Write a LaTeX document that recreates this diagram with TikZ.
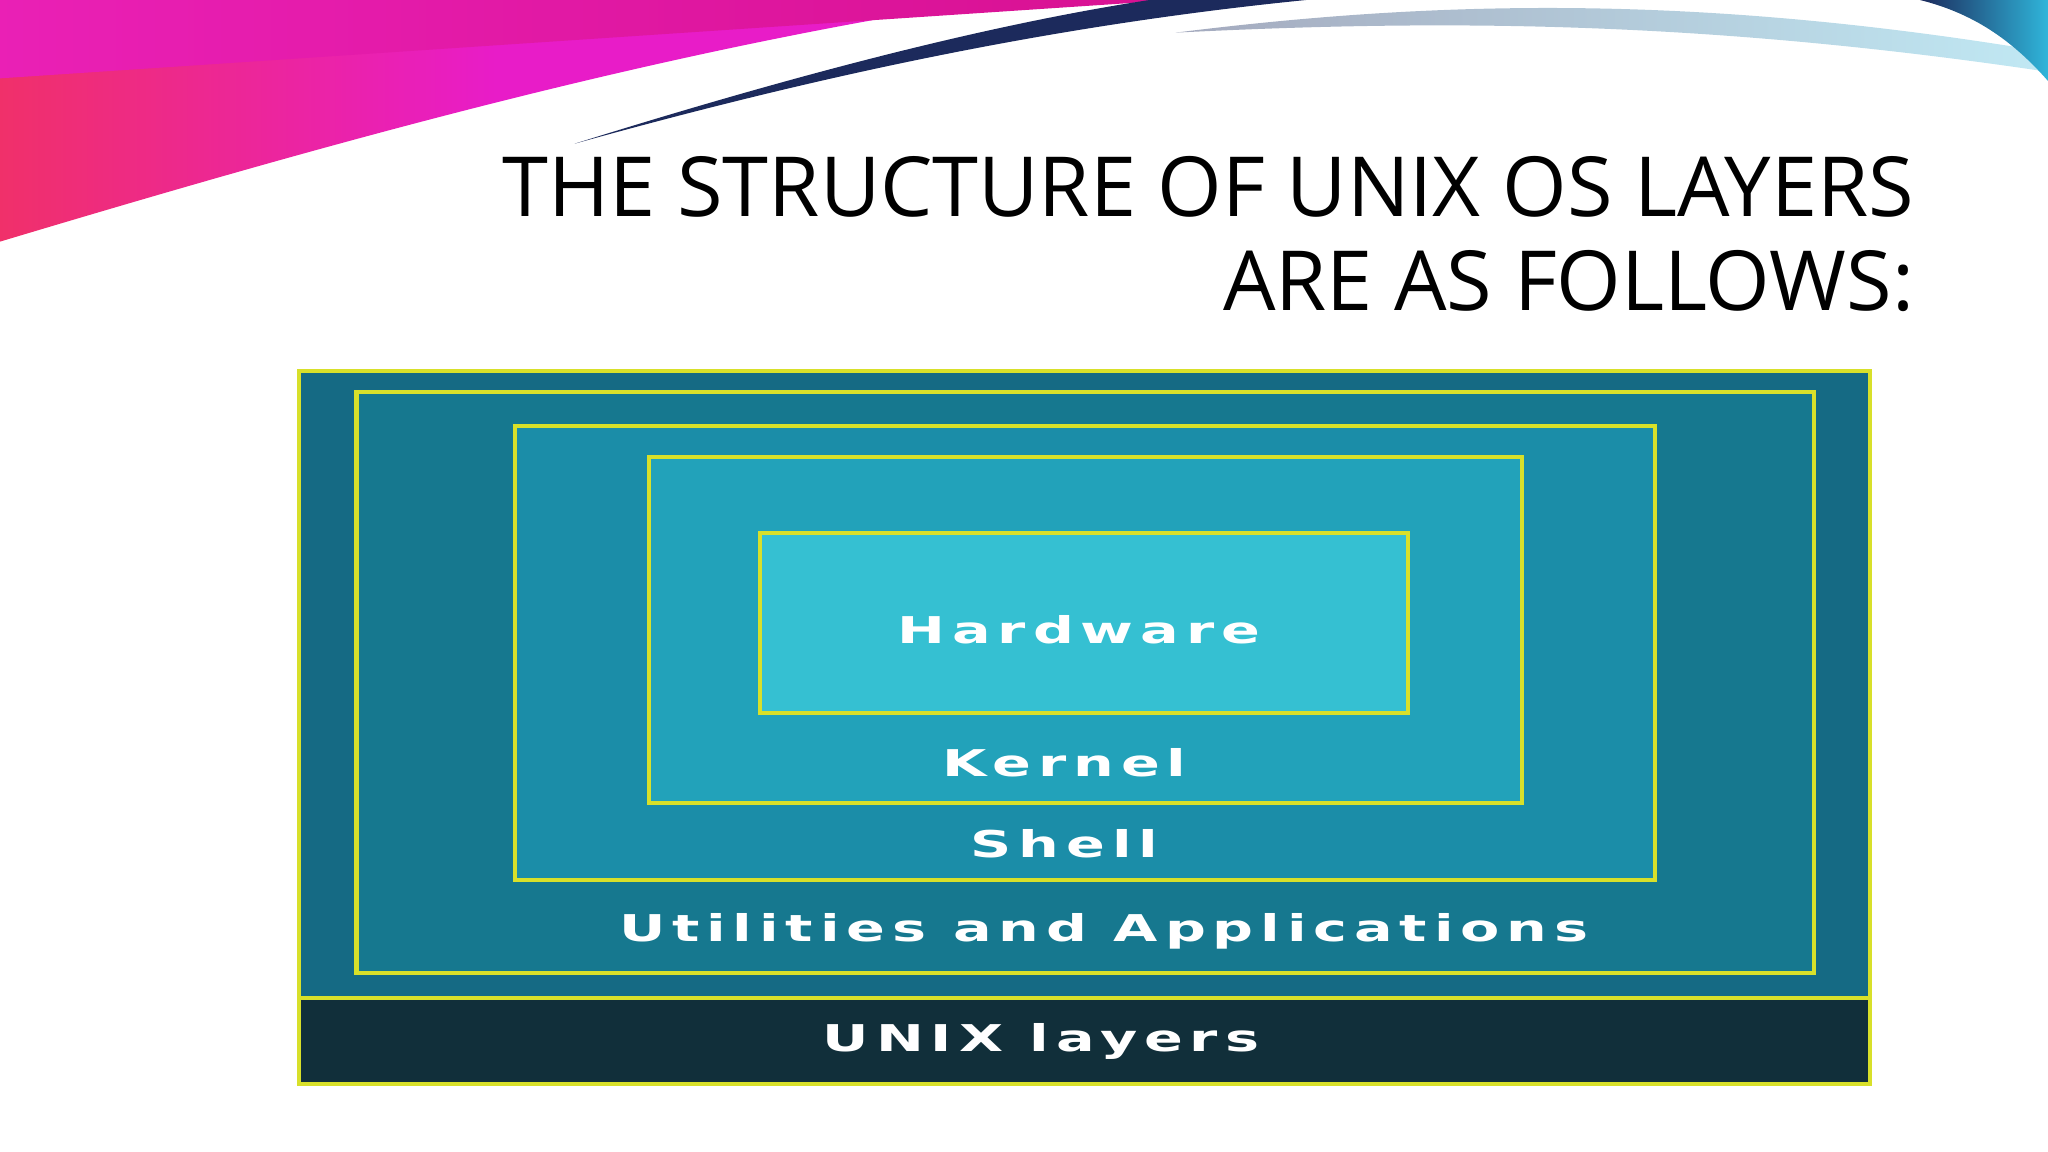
\documentclass[tikz,border=0pt]{standalone}
\usepackage{fontspec}
\setmainfont{Open Sans}
\newfontfamily\boxfont[LetterSpace=12]{DejaVu Sans Bold}
\definecolor{ylw}{HTML}{D8E02A}
\definecolor{cA}{HTML}{156A84}
\definecolor{cB}{HTML}{16788F}
\definecolor{cC}{HTML}{1B8DA8}
\definecolor{cD}{HTML}{22A2BA}
\definecolor{cE}{HTML}{35C0D2}
\definecolor{cBand}{HTML}{112F3A}
\definecolor{mag}{HTML}{E81CC8}
\definecolor{pnk}{HTML}{F0306A}
\definecolor{navy}{HTML}{1C2A5C}
\definecolor{cyn}{HTML}{2FB5DA}
\usetikzlibrary{shadings}
\tikzset{layer/.style={draw=ylw,line width=1.2pt},
 lbl/.style={text=white,font=\boxfont\fontsize{10.5}{10.5}\selectfont,xscale=1.55}}
\begin{document}
\begin{tikzpicture}[x=0.013061cm,y=-0.013061cm]
\useasboundingbox (0,0) rectangle (1568,882);
% swooshes
\shade[left color=pnk,right color=mag,middle color=mag] (0,0) -- (760,0) .. controls (500,40) and (250,110) .. (0,185) -- cycle;
\shade[left color=mag!80!pnk,right color=mag!60!purple] (0,0) -- (900,0) .. controls (600,20) and (300,40) .. (0,60) -- cycle;
\fill[navy] (440,110) .. controls (600,60) and (750,20) .. (880,0) -- (1000,0) .. controls (800,20) and (620,60) .. (440,110) -- cycle;
\shade[left color=navy!40!white,right color=cyn!30!white] (900,25) .. controls (1100,0) and (1300,-5) .. (1568,40) -- (1568,55) .. controls (1300,15) and (1100,15) .. (900,25) -- cycle;
\shade[left color=navy,right color=cyn] (1470,0) -- (1568,0) -- (1568,62) .. controls (1540,30) and (1510,10) .. (1470,0) -- cycle;
% title
\node[anchor=east,font=\fontsize{23.6}{23.6}\selectfont,inner sep=0] (t1) at (1466,143) {THE STRUCTURE OF UNIX OS LAYERS};
\node[anchor=east,font=\fontsize{23.6}{23.6}\selectfont,inner sep=0] (t2) at (1466,215) {ARE AS FOLLOWS:};
% layers
\fill[layer,fill=cA] (229,284) rectangle (1432,830);
\fill[layer,fill=cBand] (229,764) rectangle (1432,830);
\fill[layer,fill=cB] (273,300) rectangle (1389,745);
\fill[layer,fill=cC] (394,326) rectangle (1267,674);
\fill[layer,fill=cD] (497,350) rectangle (1165,615);
\fill[layer,fill=cE] (582,408) rectangle (1078,546);
\node[lbl] (hw) at (826,482) {Hardware};
\node[lbl] (kn) at (815,584) {Kernel};
\node[lbl] (sh) at (815,646) {Shell};
\node[lbl] (ua) at (845,713) {Utilities and Applications};
\node[lbl] (ul) at (797,797) {UNIX layers};
\end{tikzpicture}
\end{document}
